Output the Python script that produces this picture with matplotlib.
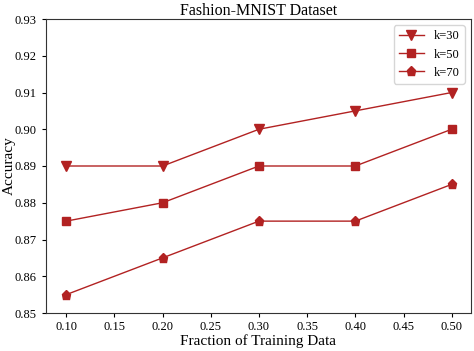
import matplotlib
matplotlib.use("Agg")
import matplotlib.pyplot as plt

plt.rcParams['font.family'] = ['Liberation Serif', 'DejaVu Serif']

fractions = [0.10, 0.20, 0.30, 0.40, 0.50]
acc_k30 = [0.890, 0.890, 0.900, 0.905, 0.910]
acc_k50 = [0.875, 0.880, 0.890, 0.890, 0.900]
acc_k70 = [0.855, 0.865, 0.875, 0.875, 0.885]

color = '#b22222'

fig = plt.figure(figsize=(4.74, 3.51), dpi=100)
ax = fig.add_axes([46/474, 1 - 313/351, 425/474, 294/351])

ax.plot(fractions, acc_k30, marker='v', color=color, lw=1, ms=6.5, label='k=30')
ax.plot(fractions, acc_k50, marker='s', color=color, lw=1, ms=6, label='k=50')
ax.plot(fractions, acc_k70, marker='p', color=color, lw=1, ms=6.5, label='k=70')

ax.set_xlim(0.079, 0.52)
ax.set_ylim(0.85, 0.93)
ax.set_xticks([0.10, 0.15, 0.20, 0.25, 0.30, 0.35, 0.40, 0.45, 0.50])
ax.set_xticklabels(['0.10', '0.15', '0.20', '0.25', '0.30', '0.35', '0.40', '0.45', '0.50'])
ax.set_yticks([0.85, 0.86, 0.87, 0.88, 0.89, 0.90, 0.91, 0.92, 0.93])
ax.set_yticklabels(['0.85', '0.86', '0.87', '0.88', '0.89', '0.90', '0.91', '0.92', '0.93'])
ax.tick_params(labelsize=9, length=3)
ax.tick_params(axis='x', pad=2.5)
for s in ax.spines.values():
    s.set_color('#333333')

ax.set_title('Fashion-MNIST Dataset', fontsize=11.5, pad=3)
ax.set_xlabel('Fraction of Training Data', fontsize=11)
ax.xaxis.set_label_coords(0.5, -0.073)
ax.set_ylabel('Accuracy', fontsize=11)
ax.yaxis.set_label_coords(-0.07, 0.5)
ax.legend(loc='upper right', fontsize=9, handlelength=2)

fig.savefig('out.png', dpi=100)
